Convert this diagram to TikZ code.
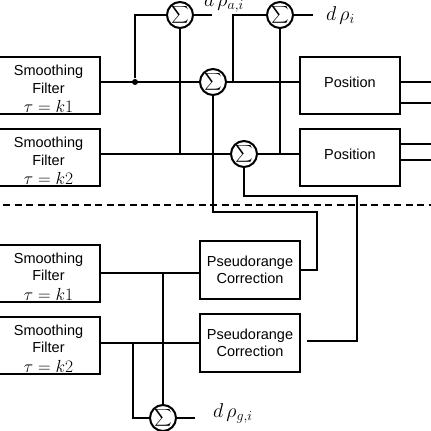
\RequirePackage{fix-cm}
\documentclass[tikz,border=0pt]{standalone}
\usepackage{exscale}
\usepackage{fontspec}
\setmainfont{Liberation Sans}
\usetikzlibrary{calc}
\begin{document}
\begin{tikzpicture}[x=1pt,y=-1pt,
  line width=2pt,
  blk/.style={draw, line width=2pt, minimum width=100pt, minimum height=57pt, inner sep=0pt, align=center, font=\fontsize{14.5}{17.5}\selectfont},
  sumnode/.style={draw, circle, line width=2pt, minimum size=26pt, inner sep=0pt, font=\fontsize{13}{13}\selectfont},
  lbl/.style={inner sep=0pt, font=\fontsize{20}{20}\selectfont},
  jdot/.style={circle, fill, inner sep=0pt, minimum size=6pt},
  sep/.style={line width=2.8pt, dash pattern=on 7pt off 4.5pt}]
\useasboundingbox (0,0) rectangle (431,431);
\newcommand{\tauline}[1]{{\fontsize{17.5}{17.5}\selectfont$\tau=k#1$}}
\newcommand{\filtertext}[1]{\rule{0pt}{17pt}Smoothing\\Filter\\[2pt]\tauline{#1}}
% blocks
\node[blk, minimum width=103pt] (f1) at (48.5,85.5) {\filtertext{1}};
\node[blk, minimum width=103pt] (f2) at (48.5,157.5) {\filtertext{2}};
\node[blk] (p1) at (350,85.5) {Position\rule[-6pt]{0pt}{6pt}};
\node[blk] (p2) at (350,157.5) {Position\rule[-6pt]{0pt}{6pt}};
\node[blk, minimum width=103pt] (f3) at (48.5,273) {\filtertext{1}};
\node[blk, minimum width=103pt] (f4) at (48.5,345) {\filtertext{2}};
\node[blk, minimum height=58pt] (pr1) at (250,270) {Pseudorange\\Correction};
\node[blk, minimum height=58pt] (pr2) at (250,343) {Pseudorange\\Correction};
% summing junctions
\node[sumnode] (s1) at (180,15) {$\displaystyle\sum$};
\node[sumnode] (s2) at (213,82) {$\displaystyle\sum$};
\node[sumnode] (s3) at (280,15) {$\displaystyle\sum$};
\node[sumnode] (s4) at (244,154) {$\displaystyle\sum$};
\node[sumnode] (s5) at (163,418) {$\displaystyle\sum$};
% labels
\node[lbl, anchor=base west] (la) at (203,6.5) {$d\,\rho_{a,i}$};
\node[lbl, anchor=base west] (li) at (325,20) {$d\,\rho_i$};
\node[lbl, anchor=base west] (lg) at (212,417) {$d\,\rho_{g,i}$};
% coordinates
\node[jdot] (d1) at (135,82) {};
\coordinate (a1) at (212,15);
\coordinate (j2) at (233,82);
\coordinate (a2) at (313,15);
\coordinate (o1) at (436,82);
\coordinate (o2) at (436,103);
\coordinate (o3) at (436,144);
\coordinate (o4) at (436,160);
\coordinate (c1) at (317,212);
\coordinate (c2) at (357,196);
\coordinate (e2) at (307,341);
\coordinate (dl) at (3,205);
\coordinate (dr) at (432,205);
\coordinate (j3) at (133,343);
\coordinate (a3) at (195,418);
% upper connectors
\draw (f1.east |- s2) -- (s2.west);
\draw (d1) |- (s1.west);
\draw (s1.east) -- (a1);
\draw (s1.south) -- (s1.south |- s4);
\draw (f2.east |- s4) -- (s4.west);
\draw (s2.east) -- (s2.east -| p1.west);
\draw (j2) |- (s3.west);
\draw (s3.east) -- (a2);
\draw (s3.south) -- (s3.south |- s4);
\draw (s4.east) -- (s4.east -| p2.west);
\draw (p1.east |- o1) -- (o1);
\draw (p1.east |- o2) -- (o2);
\draw (p2.east |- o3) -- (o3);
\draw (p2.east |- o4) -- (o4);
% feedback
\draw (pr1.east) -| (c1) -| (s2.south);
\draw (s4.south) |- (c2) |- (e2);
% separator
\draw[sep] (dl) -- (dr);
% lower connectors
\draw (f3.east) -- (f3.east -| pr1.west);
\draw (f4.east |- pr2) -- (pr2.west);
\draw (s5.north |- f3) -- (s5.north);
\draw (j3) |- (s5.west);
\draw (s5.east) -- (a3);
\end{tikzpicture}
\end{document}
